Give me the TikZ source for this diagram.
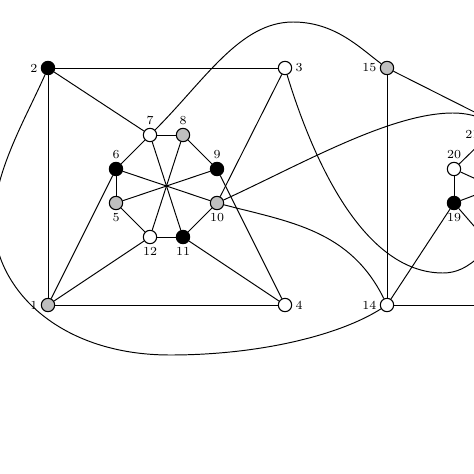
\documentclass[tikz,border=0pt]{standalone}
\begin{document}
\begin{tikzpicture}[x=0.02cm,y=-0.02cm,
  vtx/.style={circle,draw,line width=0.6pt,minimum size=7.6pt,inner sep=0pt},
  wv/.style={vtx,fill=white},
  bv/.style={vtx,fill=black},
  gv/.style={vtx,fill=black!25},
  every label/.style={font=\scriptsize,inner sep=1.8pt},
  edge/.style={line width=0.55pt}]
\clip (0,0) rectangle (474,474);
% outer square (left)
\node[gv,label=left:1]  (n1)  at (48,305) {};
\node[bv,label=left:2]  (n2)  at (48,68) {};
\node[wv,label=right:3] (n3)  at (285,68) {};
\node[wv,label=right:4] (n4)  at (285,305) {};
% octagon (left)
\node[gv,label=below:5]  (n5)  at (116,203) {};
\node[bv,label=above:6]  (n6)  at (116,169) {};
\node[wv,label=above:7]  (n7)  at (150,135) {};
\node[gv,label=above:8]  (n8)  at (183,135) {};
\node[bv,label=above:9]  (n9)  at (217,169) {};
\node[gv,label=below:10] (n10) at (217,203) {};
\node[bv,label=below:11] (n11) at (183,237) {};
\node[wv,label=below:12] (n12) at (150,237) {};
% right part
\node[wv,label=left:14]  (n14) at (387,305) {};
\node[gv,label=left:15]  (n15) at (387,68) {};
\node[bv,label=below:19] (n19) at (454,203) {};
\node[wv,label=above:20] (n20) at (454,169) {};
\node[wv,label=left:21]  (n21) at (490,134) {};
% off-picture ends
\coordinate (e14) at (520,305);
\coordinate (e15) at (520,135);
\coordinate (e19a) at (555,165);
\coordinate (e19b) at (500,256);
\coordinate (e20) at (555,215);
\coordinate (r3) at (520,200);
\coordinate (r10) at (530,150);
% square edges
\draw[edge] (n1) -- (n2);
\draw[edge] (n2) -- (n3);
\draw[edge] (n1) -- (n4);
\draw[edge] (n2) -- (n7);
\draw[edge] (n1) -- (n6);
\draw[edge] (n1) -- (n12);
\draw[edge] (n3) -- (n10);
\draw[edge] (n9) -- (n4);
\draw[edge] (n11) -- (n4);
% octagon edges
\draw[edge] (n7) -- (n8);
\draw[edge] (n8) -- (n9);
\draw[edge] (n10) -- (n11);
\draw[edge] (n11) -- (n12);
\draw[edge] (n12) -- (n5);
\draw[edge] (n5) -- (n6);
\draw[edge] (n6) -- (n7);
% diagonals
\draw[edge] (n6) -- (n10);
\draw[edge] (n5) -- (n9);
\draw[edge] (n7) -- (n11);
\draw[edge] (n8) -- (n12);
% right edges
\draw[edge] (n14) -- (n15);
\draw[edge] (n14) -- (n19);
\draw[edge] (n19) -- (n20);
\draw[edge] (n20) -- (n21);
\draw[edge] (n20) -- (e20);
\draw[edge] (n19) -- (e19a);
\draw[edge] (n19) -- (e19b);
\draw[edge] (n15) -- (e15);
\draw[edge] (n14) -- (e14);
% curves
\draw[edge] (n7) .. controls (205,80) and (240,22) .. (293,22)
                 .. controls (335,22) and (360,48) .. (n15);
\draw[edge] (n2) .. controls (25,120) and (-8,175) .. (-6,225)
                 .. controls (-4,290) and (60,355) .. (170,355)
                 .. controls (260,355) and (340,335) .. (n14);
\draw[edge] (n3) .. controls (310,150) and (360,273) .. (443,273)
                 .. controls (470,273) and (490,250) .. (r3);
\draw[edge] (n10) .. controls (300,165) and (390,113) .. (453,113)
                  .. controls (480,113) and (500,125) .. (r10);
\draw[edge] (n10) .. controls (290,222) and (350,230) .. (n14);
\end{tikzpicture}
\end{document}
